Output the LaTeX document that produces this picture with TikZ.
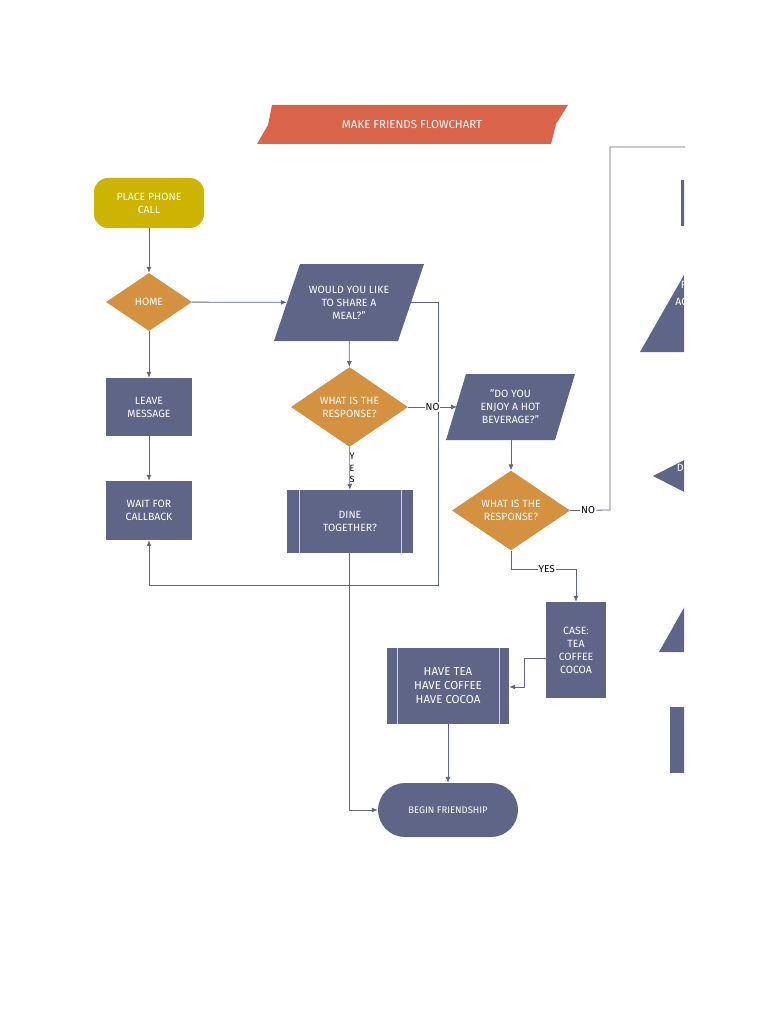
\documentclass[tikz,border=0pt]{standalone}
\usepackage{fontspec}
\setmainfont{Fira Sans}
\usetikzlibrary{shapes.geometric,arrows.meta}
\definecolor{slate}{HTML}{5E6586}
\definecolor{amber}{HTML}{D4913F}
\definecolor{mustard}{HTML}{CCB400}
\definecolor{brick}{HTML}{D9644A}
\begin{document}
\begin{tikzpicture}[x=1pt,y=-1pt,
  txt/.style={text=white,font=\fontsize{10.5}{13}\selectfont,align=center,inner sep=0pt},
  box/.style={txt,fill=slate,minimum width=86,minimum height=58},
  dia/.style={txt,diamond,fill=amber,inner sep=0pt},
  lbl/.style={font=\fontsize{10}{12}\selectfont,text=black,inner sep=1pt},
  con/.style={draw=slate,line width=0.8pt},
  arr/.style={con,-{Latex[length=6pt,width=5pt]}}]
\useasboundingbox (0,0) rectangle (768,1024);
% title
\fill[brick] (272,105)--(568,105)--(556,124)--(551,144)--(257,144)--(268,125)--cycle;
\node[txt,font=\fontsize{11.5}{14}\selectfont] (title) at (412,125) {MAKE FRIENDS FLOWCHART};
% nodes
\node[txt,fill=mustard,rounded corners=14pt,minimum width=110,minimum height=50] (call) at (149,203) {PLACE PHONE\\CALL};
\node[dia,minimum width=86,minimum height=58] (home) at (149,302) {HOME};
\node[box] (leave) at (149,407) {LEAVE\\MESSAGE};
\node[box,minimum height=59] (wait) at (149,510.5) {WAIT FOR\\CALLBACK};
\fill[slate] (300,264)--(424,264)--(398,341)--(274,341)--cycle;
\node[txt,minimum width=124,minimum height=77] (meal) at (349,302.5) {WOULD YOU LIKE\\TO SHARE A\\MEAL?"};
\node[dia,minimum width=117,minimum height=78] (resp1) at (349.5,407) {WHAT IS THE\\RESPONSE?};
\node[box,minimum width=126,minimum height=63] (dine) at (350,521.5) {DINE\\TOGETHER?};
\draw[white!70!slate,line width=0.6pt] (299,490)--(299,553) (401,490)--(401,553);
\fill[slate] (466,374)--(575,374)--(555,440)--(446,440)--cycle;
\node[txt,minimum width=110,minimum height=66] (bev) at (510.5,407) {"DO YOU\\ENJOY A HOT\\BEVERAGE?"};
\node[dia,minimum width=118,minimum height=77] (resp2) at (511,510.5) {WHAT IS THE\\RESPONSE?};
\node[box,minimum width=60,minimum height=96] (case) at (576,650) {CASE:\\TEA\\COFFEE\\COCOA};
\node[box,minimum width=122,minimum height=76,font=\fontsize{11.5}{14}\selectfont] (tea) at (448,686) {HAVE TEA\\HAVE COFFEE\\HAVE COCOA};
\draw[white!70!slate,line width=0.6pt] (397,648)--(397,724) (499,648)--(499,724);
\node[box,rounded corners=27pt,minimum width=140,minimum height=54,font=\fontsize{9.5}{12}\selectfont] (begin) at (448,810) {BEGIN FRIENDSHIP};
% connectors
\draw[arr] (call) -- (home);
\draw[arr] (home) -- (meal);
\draw[arr] (home) -- (leave);
\draw[arr] (leave) -- (wait);
\coordinate (m1) at (438,302);
\coordinate (m2) at (438,585);
\coordinate (m3) at (149,585);
\draw[arr] (411,302) -- (m1) -- (m2) -- (m3) -- (wait);
\draw[arr] (meal) -- (resp1);
\draw[arr] (resp1) -- (dine);
\node[lbl,align=center,font=\fontsize{9}{11.5}\selectfont,fill=white,inner sep=0pt] at (352,468) {Y\\E\\S};
\draw[arr] (resp1) -- node[lbl,pos=0.5,fill=white]{NO} (bev.west -| 457,407);
\draw[arr] (bev.south -| 511,440) -- (resp2);
\coordinate (n1) at (610,510);
\coordinate (n2) at (610,147);
\coordinate (n3) at (685,147);
\draw[con] (resp2.east) -- node[lbl,pos=0.45,fill=white]{NO} (n1) -- (n2) -- (n3);
\coordinate (y1) at (511,569);
\coordinate (y2) at (576,569);
\draw[arr] (resp2.south) -- (y1) -- node[lbl,pos=0.55,fill=white]{YES} (y2) -- (case);
\coordinate (c1) at (524,658);
\coordinate (c2) at (524,687);
\draw[arr] (case.west |- c1) -- (c1) -- (c2) -- (tea.east |- c2);
\draw[arr] (tea) -- (begin);
\coordinate (d1) at (349,810);
\draw[arr] (dine.south -| d1) -- (d1) -- (begin);
% clipped shapes at right edge
\begin{scope}
\clip (0,0) rectangle (684,1024);
\fill[slate] (681,180) rectangle (700,226);
\fill[slate] (688,268)--(760,268)--(760,352)--(640,352)--cycle;
\node[txt] at (684,285) {R};
\node[txt] at (684,302) {ACT};
\fill[slate] (653,476)--(700,452)--(700,500)--cycle;
\node[txt] at (684,468) {DO};
\fill[slate] (690,597)--(700,597)--(700,652)--(659,652)--cycle;
\fill[slate] (670,707) rectangle (700,773);
\end{scope}
\end{tikzpicture}
\end{document}
